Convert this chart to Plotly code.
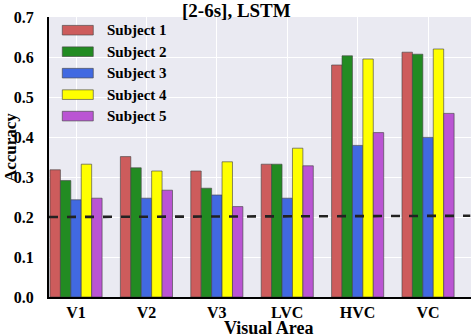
import plotly.graph_objects as go

areas = ["V1", "V2", "V3", "LVC", "HVC", "VC"]
subjects = ["Subject 1", "Subject 2", "Subject 3", "Subject 4", "Subject 5"]
s1 = [0.318, 0.351, 0.315, 0.332, 0.580, 0.612]
s2 = [0.291, 0.323, 0.272, 0.332, 0.603, 0.607]
s3 = [0.243, 0.247, 0.255, 0.247, 0.379, 0.399]
s4 = [0.332, 0.315, 0.338, 0.372, 0.595, 0.620]
s5 = [0.247, 0.267, 0.226, 0.328, 0.411, 0.459]
series = [s1, s2, s3, s4, s5]
colors = ["#CD5C5C", "#228B22", "#4169E1", "#FFFF00", "#BA55D3"]
chance = [0.200, 0.203]
yticks = [0.0, 0.1, 0.2, 0.3, 0.4, 0.5, 0.6, 0.7]

SERIF = "Liberation Serif"

fig = go.Figure()
for name, vals, c in zip(subjects, series, colors):
    fig.add_trace(go.Bar(
        x=list(range(len(areas))), y=vals, name=name,
        marker=dict(color=c, line=dict(color="rgba(70,70,70,0.8)", width=0.8)),
        showlegend=False,
    ))

fig.add_trace(go.Scatter(
    x=[-0.384, 5.6], y=chance, mode="lines",
    line=dict(color="#222222", width=2.6, dash="dash"),
    showlegend=False, hoverinfo="skip",
))

# manual legend (wide patches like the reference)
shapes = []
annotations = []
y0 = 0.667
step = 0.0537
for i, (name, c) in enumerate(zip(subjects, colors)):
    yc = y0 - i * step
    shapes.append(dict(type="rect", xref="x", yref="y",
                       x0=-0.195, x1=0.245, y0=yc - 0.012, y1=yc + 0.012,
                       fillcolor=c, line=dict(color="rgba(70,70,70,0.8)", width=0.8)))
    annotations.append(dict(xref="x", yref="y", x=0.41, y=yc, text=f"<b>{name}</b>",
                            showarrow=False, xanchor="left", yanchor="middle",
                            font=dict(family=SERIF, size=15, color="black")))

annotations.append(dict(xref="paper", yref="paper", x=0.444, y=1.0, yshift=19,
                        text="<b>[2-6s], LSTM</b>", showarrow=False,
                        xanchor="center", yanchor="top",
                        font=dict(family=SERIF, size=19, color="black")))
annotations.append(dict(xref="paper", yref="paper", x=0.521, y=0, yshift=-19,
                        text="<b>Visual Area</b>", showarrow=False,
                        xanchor="center", yanchor="top",
                        font=dict(family=SERIF, size=18, color="black")))
annotations.append(dict(xref="paper", yref="paper", x=0, xshift=-39, y=0.532,
                        text="<b>Accuracy</b>", showarrow=False, textangle=-90,
                        xanchor="center", yanchor="middle",
                        font=dict(family=SERIF, size=17, color="black")))

fig.update_layout(
    width=474, height=335,
    margin=dict(l=49, r=3, t=17, b=38),
    paper_bgcolor="white", plot_bgcolor="#EAEAF2",
    barmode="group", bargap=0.26, bargroupgap=0,
    shapes=shapes, annotations=annotations,
    font=dict(family=SERIF, color="black"),
)
fig.update_xaxes(
    range=[-0.384, 5.61], tickvals=list(range(len(areas))),
    ticktext=[f"<b>{a}</b>" for a in areas],
    tickfont=dict(family=SERIF, size=16, color="black"),
    showgrid=True, gridcolor="white", gridwidth=1.2,
    showline=True, linecolor="black", linewidth=1.5,
    ticks="", ticklabelstandoff=0, zeroline=False,
)
fig.update_yaxes(
    range=[0, 0.7], tickvals=yticks,
    ticktext=[f"<b>{v:.1f}</b>" for v in yticks],
    tickfont=dict(family=SERIF, size=16, color="black"),
    showgrid=True, gridcolor="white", gridwidth=1.2,
    showline=True, linecolor="black", linewidth=2,
    ticks="", ticklabelstandoff=10, zeroline=False,
)

fig.write_html("out.html")
